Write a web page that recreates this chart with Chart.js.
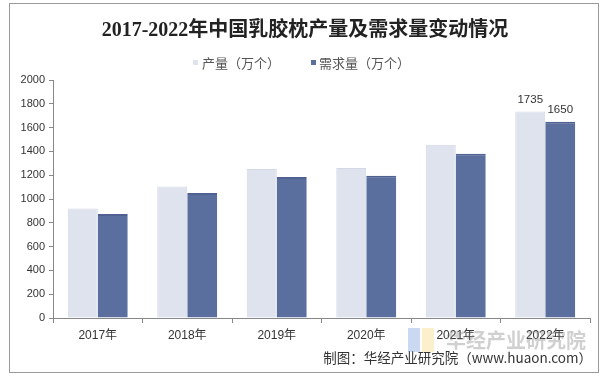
<!DOCTYPE html>
<html>
<head>
  <meta charset="UTF-8">
  <title>2017-2022年中国乳胶枕产量及需求量变动情况</title>
  <script src="https://cdn.jsdelivr.net/npm/chart.js"></script>
  <style>
    html, body { margin: 0; padding: 0; background: #fff; }
    #wrap { width: 608px; height: 383px; position: relative; }
  </style>
</head>
<body>
  <div id="wrap"><canvas id="c"></canvas></div>
  <script>
    const years = ['2017年', '2018年', '2019年', '2020年', '2021年', '2022年'];
    const output = [920, 1105, 1252, 1260, 1455, 1735];   // 产量（万个）
    const demand = [875, 1050, 1185, 1195, 1380, 1650];   // 需求量（万个）
    const yTicks = [0, 200, 400, 600, 800, 1000, 1200, 1400, 1600, 1800, 2000];

    const titleText = '2017-2022年中国乳胶枕产量及需求量变动情况';
    const sourceText = '制图：华经产业研究院（www.huaon.com）';
    const sansFont = '"Liberation Sans", Arial, "Noto Sans CJK SC", sans-serif';

    // frame, title, legend, footer and the two labels on 2022
    const decor = {
      id: 'decor',
      beforeDraw(chart) {
        const ctx = chart.ctx;
        ctx.save();
        ctx.strokeStyle = '#9a9a9a';
        ctx.lineWidth = 1;
        ctx.strokeRect(9.5, 3.5, 589, 369);
        ctx.restore();
      },
      afterDraw(chart) {
        const ctx = chart.ctx;
        ctx.save();
        // title
        ctx.fillStyle = '#222';
        ctx.font = 'bold 20px "Liberation Serif", "Noto Sans CJK SC", serif';
        ctx.textAlign = 'center';
        ctx.textBaseline = 'middle';
        ctx.fillText(titleText, 305, 31);

        // legend
        ctx.font = '13px "Noto Sans CJK SC", sans-serif';
        ctx.textAlign = 'left';
        ctx.fillStyle = '#dfe3ee';
        ctx.fillRect(193, 60, 5, 5);
        ctx.fillStyle = '#555';
        ctx.fillText('产量（万个）', 202, 63);
        ctx.fillStyle = '#5b6f9f';
        ctx.fillRect(311, 60, 5, 5);
        ctx.fillStyle = '#555';
        ctx.fillText('需求量（万个）', 319, 63);

        // watermark
        ctx.globalAlpha = 0.35;
        ctx.fillStyle = '#6a8fd8';
        ctx.fillRect(408, 328, 12, 24);
        ctx.fillStyle = '#f3d36a';
        ctx.fillRect(422, 328, 12, 24);
        ctx.fillStyle = '#777';
        ctx.font = 'bold 20px "Noto Sans CJK SC", sans-serif';
        ctx.fillText('华经产业研究院', 446, 340);
        ctx.globalAlpha = 1;

        // source
        ctx.fillStyle = '#333';
        ctx.font = '13.5px "Noto Sans CJK SC", sans-serif';
        ctx.textAlign = 'right';
        ctx.fillText(sourceText, 592, 358);

        // value labels on the last year
        ctx.font = '11.5px ' + sansFont;
        ctx.textAlign = 'center';
        ctx.textBaseline = 'bottom';
        ctx.fillStyle = '#333';
        const last = years.length - 1;
        [0, 1].forEach(i => {
          const bar = chart.getDatasetMeta(i).data[last];
          const v = chart.data.datasets[i].data[last];
          ctx.fillText(String(v), bar.x, bar.y - 6);
        });
        ctx.restore();
      }
    };

    new Chart(document.getElementById('c'), {
      type: 'bar',
      data: {
        labels: years,
        datasets: [
          { label: '产量（万个）', data: output, backgroundColor: '#dfe3ee', borderColor: '#d3d8e6', borderWidth: 1,
            categoryPercentage: 0.67, barPercentage: 1 },
          { label: '需求量（万个）', data: demand, backgroundColor: '#5b6f9f', borderColor: '#4e6190', borderWidth: { top: 2, left: 0, right: 0, bottom: 0 },
            categoryPercentage: 0.67, barPercentage: 1 }
        ]
      },
      options: {
        responsive: true,
        maintainAspectRatio: false,
        animation: false,
        layout: { padding: { top: 80, left: 10, right: 18, bottom: 0 } },
        plugins: { legend: { display: false }, title: { display: false }, tooltip: { enabled: false } },
        scales: {
          x: {
            grid: { offset: true, drawOnChartArea: false, drawTicks: true, tickLength: 5, color: '#888' },
            border: { color: '#888' },
            ticks: { color: '#333', font: { size: 12, family: sansFont }, padding: 5 },
            afterFit(s) { s.height = 65; }
          },
          y: {
            min: 0, max: 2000,
            afterBuildTicks(s) { s.ticks = yTicks.map(v => ({ value: v })); },
            grid: { drawOnChartArea: false, drawTicks: true, tickLength: 4, color: '#888' },
            border: { color: '#888' },
            ticks: { color: '#333', font: { size: 11, family: sansFont }, padding: 4, callback: v => String(v) },
            afterFit(s) { s.width = 43; }
          }
        }
      },
      plugins: [decor]
    });
  </script>
</body>
</html>
